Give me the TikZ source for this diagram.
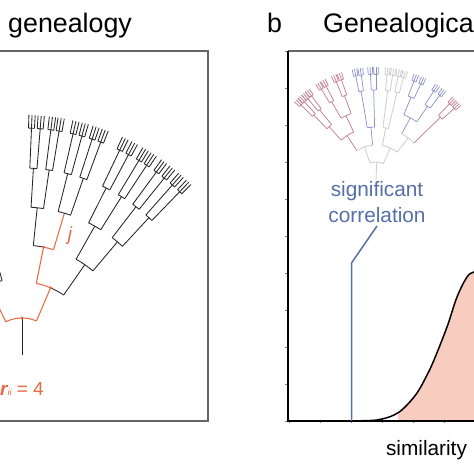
\documentclass[tikz,border=0pt]{standalone}
\usepackage{fontspec}
\setmainfont{Liberation Sans}
\definecolor{org}{HTML}{E66B45}
\definecolor{blu}{HTML}{5670A8}
\definecolor{pnk}{HTML}{F8CCBE}
\definecolor{tred}{HTML}{C27A8C}
\definecolor{tblu}{HTML}{8A8FCB}
\definecolor{tgry}{HTML}{CDCDCD}
\definecolor{frm}{HTML}{666666}
\newcommand\rl[4]{\draw[#1] ({90-(#2)}:#3) -- ({90-(#2)}:#4);}
\newcommand\ar[4]{\draw[#1] ({90-(#3)}:#2) arc[start angle={90-(#3)}, end angle={90-(#4)}, radius=#2];}
\newcommand\nd[6]{\rl{#1}{#2}{#3}{#4}\ar{#1}{#4}{#5}{#6}}
\newcommand\fk[6]{\rl{#1}{#2}{#3}{#5}\ar{#1}{#4}{#2-#6}{#2+#6}\rl{#1}{#2-#6}{#4}{#5}\rl{#1}{#2+#6}{#4}{#5}}
\begin{document}
\begin{tikzpicture}[x=1pt,y=1pt,
  title/.style={font=\fontsize{26.8}{30}\selectfont, inner sep=0pt, anchor=base west},
  lab/.style={font=\fontsize{20.8}{26}\selectfont, inner sep=0pt},
  k/.style={black!85, line width=0.85pt},
  o/.style={org, line width=1.05pt},
  g/.style={tgry, line width=0.8pt},
  rd/.style={tred, line width=0.7pt},
  bl/.style={tblu, line width=0.7pt}]
\useasboundingbox (0,0) rectangle (474,474);
\clip (0,0) rectangle (474,474);
\fill[white] (0,0) rectangle (474,474);
% titles
\node[title] (ta) at (8,441) {genealogy};
\node[title] (tb) at (267,441) {b};
\node[title] (tg) at (323,441) {Genealogica};
% left panel frame
\draw[frm, line width=1.4pt] (-5,53) rectangle (208,423);
% left tree
\begin{scope}[shift={(22,119)}]
\rl{k}{0}{0}{37}
\ar{o}{37}{-26}{23.05}
\rl{o}{-26}{37}{77}
\ar{o}{77}{-26}{-40}
\ar{k}{77}{-26}{-15}
\rl{k}{-15}{77}{120}
\rl{o}{-40}{77}{120}
\rl{o}{23.05}{37}{73}
\ar{o}{73}{23.05}{11.3}
\ar{k}{73}{23.05}{34.8}
\rl{o}{11.3}{73}{110}
\ar{k}{110}{11.3}{5.9}
\ar{o}{110}{11.3}{16.65}
\nd{k}{34.8}{73}{110}{29.45}{40.15}
\nd{k}{5.9}{110}{148}{3.5}{8.35}
\rl{o}{16.65}{110}{148}
\ar{k}{148}{14.15}{19.15}
\nd{k}{29.45}{110}{148}{26.75}{32.15}
\nd{k}{40.15}{110}{148}{37.55}{42.75}
\foreach \p/\a/\b in {3.5/2.4/4.6, 8.35/7.3/9.4, 14.15/13/15.3, 19.15/18/20.3, 26.75/25.5/28, 32.15/31/33.3, 37.55/36.3/38.8, 42.75/41.5/44}{\nd{k}{\p}{148}{187}{\a}{\b}}
\foreach \f in {2.4,4.6,7.3,9.4,13,15.3,18,20.3,25.5,28,31,33.3,36.3,38.8,41.5,44}{\fk{k}{\f}{187}{227}{240}{0.75}}
\fill[org] (90:37) circle (1.6);
\fill[org] ({90-23.05}:73) circle (1.6);
\fill[org] ({90-11.3}:110) circle (1.6);
\node[org, font=\fontsize{19}{20}\selectfont\itshape, inner sep=0pt] (jl) at (48,119) {j};
\end{scope}
\node[org, font=\fontsize{19}{20}\selectfont, inner sep=0pt, anchor=base west] (rl) at (0,78) {{\bfseries\itshape r}{\fontsize{9}{9}\selectfont\itshape ii} = 4};
% right panel frame
\draw[frm, line width=1.2pt] (288,423) -- (480,423);
\foreach \i in {0,...,10}{\draw[gray, line width=0.6pt] (284.5,53+37*\i) -- (288,53+37*\i);}
\foreach \i in {0,...,5}{\draw[gray, line width=0.6pt] (289+31*\i,53) -- (289+31*\i,50.5);}
% density
\begin{scope}
\clip (398,0) rectangle (480,474);
\fill[pnk] plot[smooth, tension=0.6] coordinates {(340,53) (370,53.5) (382,55) (394,59) (404,66) (417,81) (427,99) (434,114) (447,147) (457,177) (467,197) (474,202) (484,205)} -- (484,53) -- cycle;
\end{scope}
\draw[black, line width=1.5pt] plot[smooth, tension=0.6] coordinates {(300,53) (340,53) (370,53.5) (382,55) (394,59) (404,66) (417,81) (427,99) (434,114) (447,147) (457,177) (467,197) (474,202) (484,205)};
\draw[black, line width=1.2pt] (288,423) -- (288,53) -- (480,53);
% right tree
\begin{scope}[shift={(376,294)}]
\rl{g}{2.3}{0}{18}
\ar{g}{18}{-19.3}{23.9}
\nd{g}{-19.3}{18}{35}{-33.1}{-5.5}
\nd{rd}{-33.1}{35}{53}{-41.25}{-25}
\nd{rd}{-41.25}{53}{71}{-43.75}{-38.75}
\nd{rd}{-25}{53}{71}{-29.5}{-20.5}
\foreach \p/\a/\b in {-43.75/-45/-42.5, -38.75/-40/-37.5, -29.5/-31/-28, -20.5/-22/-19}{\nd{rd}{\p}{71}{90}{\a}{\b}}
\foreach \f in {-45,-42.5,-40,-37.5,-31,-28,-22,-19}{\fk{rd}{\f}{90}{106}{113}{1.2}}
\nd{bl}{-5.5}{35}{53}{-9.5}{-1.5}
\nd{bl}{-9.5}{53}{90}{-11}{-8}
\nd{bl}{-1.5}{53}{90}{-3}{0}
\foreach \f in {-11,-8,-3,0}{\fk{bl}{\f}{90}{106}{113}{1.2}}
\nd{g}{23.9}{18}{35}{10.5}{37.4}
\nd{g}{10.5}{35}{53}{7.5}{13.5}
\nd{g}{7.5}{53}{90}{6}{9}
\nd{g}{13.5}{53}{90}{12}{15}
\foreach \f in {6,9,12,15}{\fk{g}{\f}{90}{106}{113}{1.2}}
\nd{g}{37.4}{35}{53}{29}{45.75}
\nd{bl}{29}{53}{71}{23}{35}
\nd{bl}{23}{71}{90}{21}{25}
\nd{bl}{35}{71}{90}{33}{37}
\foreach \f in {21,25,33,37}{\fk{bl}{\f}{90}{106}{113}{1.2}}
\nd{rd}{45.75}{53}{90}{44}{47.5}
\foreach \f in {44,47.5}{\fk{rd}{\f}{90}{106}{113}{1.2}}
\end{scope}
% labels
\node[lab, blu, align=center, anchor=south] (sig) at (377,251) {significant\\correlation};
\coordinate (b0) at (351.5,53);
\coordinate (b1) at (351.5,211);
\draw[blu, line width=1.5pt] (b0) -- (b1) -- ([yshift=-3pt]sig.south);
\node[lab, anchor=base] (sim) at (426.5,18) {similarity};
\end{tikzpicture}
\end{document}
